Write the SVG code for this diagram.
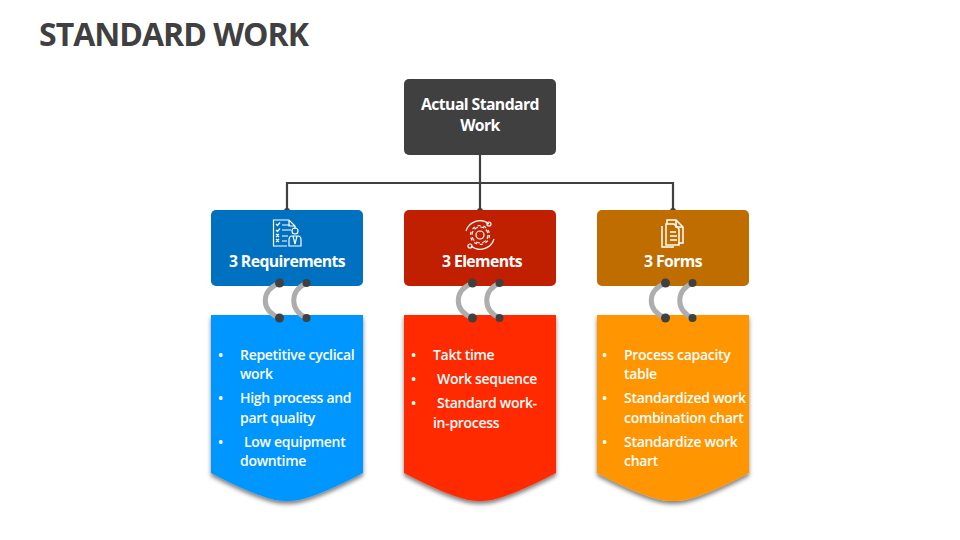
<svg xmlns="http://www.w3.org/2000/svg" width="960" height="540" viewBox="0 0 960 540">
<defs>
<style>
text{font-family:"Open Sans","Noto Sans","Liberation Sans",sans-serif}
.h{fill:#fff;font-size:15.800px;font-weight:700;text-anchor:middle;letter-spacing:-.6px}
.b{fill:#fff;font-size:14px;font-weight:600;letter-spacing:-.3px}
.c{fill:none;stroke:#404040;stroke-width:2.2}
.d{fill:#404040}
.r{fill:none;stroke:#adadad;stroke-width:5}
.i{fill:none;stroke:#fff;stroke-width:1.200}
</style>
<filter id="s" x="-10%" y="-10%" width="120%" height="120%"><feDropShadow dx="0" dy="3" stdDeviation="2" flood-color="#000" flood-opacity=".5"/></filter>
<path id="paper" d="M0 0H152V158Q110 180 88 185Q76 187 64 185Q42 180 0 158Z"/>
<g id="rings">
<path class="r" d="M-7 0C-26 8 -26 27 -7 35"/>
<path class="r" d="M20 0C3 8 3 27 20 35"/>
<circle class="d" cx="-7" cy="0" r="4.500"/><circle class="d" cx="20" cy="0" r="4"/>
<circle class="d" cx="-7" cy="35" r="4.500"/><circle class="d" cx="20" cy="35" r="4"/>
</g>
</defs>
<rect width="960" height="540" fill="#fff"/>
<text x="39" y="45.500" font-size="32" font-weight="700" fill="#404040" letter-spacing="-1">STANDARD WORK</text>
<g id="connectors">
<path class="c" d="M480 155V210M287 211V183H673V211"/>
<circle class="d" cx="287" cy="211" r="3"/><circle class="d" cx="480" cy="211" r="3"/><circle class="d" cx="673" cy="211" r="3"/>
</g>
<g id="top">
<rect x="404" y="79" width="152" height="76" rx="5" fill="#404040"/>
<text class="h" x="480" y="110">Actual Standard</text>
<text class="h" x="480" y="131">Work</text>
</g>
<g id="paper1"><use href="#paper" x="211" y="315" fill="#0096ff" filter="url(#s)"/>
<g class="b"><text x="240" y="360">Repetitive cyclical</text><text x="240" y="379">work</text><text x="240" y="403">High process and</text><text x="240" y="423">part quality</text><text x="244" y="447">Low equipment</text><text x="240" y="466">downtime</text>
<text x="218" y="360">•</text><text x="218" y="403">•</text><text x="218" y="447">•</text></g></g>
<g id="paper2"><use href="#paper" x="404" y="315" fill="#ff2a00" filter="url(#s)"/>
<g class="b"><text x="433" y="360">Takt time</text><text x="437" y="384">Work sequence</text><text x="437" y="408">Standard work-</text><text x="433" y="428">in-process</text>
<text x="411" y="360">•</text><text x="411" y="384">•</text><text x="411" y="408">•</text></g></g>
<g id="paper3"><use href="#paper" x="597" y="315" fill="#ff9500" filter="url(#s)"/>
<g class="b"><text x="624" y="360">Process capacity</text><text x="624" y="379">table</text><text x="624" y="403">Standardized work</text><text x="624" y="423">combination chart</text><text x="624" y="447">Standardize work</text><text x="624" y="466">chart</text>
<text x="602" y="360">•</text><text x="602" y="403">•</text><text x="602" y="447">•</text></g></g>
<g id="req">
<rect x="211" y="210" width="152" height="76" rx="5" fill="#0070c0"/>
<text class="h" x="287" y="267">3 Requirements</text>
<g class="i"><path d="M287 246H273.500V220H289L295 226V229M289 220V226H295"/><path d="M282 225H290M282 230H291M282 236H288M282 241H287M276 224l1.500 1.500 2.500-3M276 230l1.500 1.500 2.500-3M276 234l3 3M279 234l-3 3M276 239l3 3M279 239l-3 3"/><circle cx="295" cy="231" r="3"/><path d="M289 246V240Q289 236 292 236H298Q301 236 301 240V246ZM293 236L295 244L297 236"/></g>
</g>
<g id="ele">
<rect x="404" y="210" width="152" height="76" rx="5" fill="#c01f00"/>
<text class="h" x="482" y="267">3 Elements</text>
<g class="i"><circle cx="480" cy="235" r="4"/><circle cx="480" cy="235" r="8" stroke-dasharray="4 2.280"/><circle cx="480" cy="235" r="9.500" stroke-dasharray="3 3"/><path d="M489 224A14.500 14.500 0 0 0 466 231M471 246A14.500 14.500 0 0 0 494 239"/><circle cx="489" cy="224" r="2"/><circle cx="470" cy="246" r="2"/></g>
</g>
<g id="frm">
<rect x="597" y="210" width="152" height="76" rx="5" fill="#c06d00"/>
<text class="h" x="673" y="267">3 Forms</text>
<g class="i" style="stroke-width:1.500"><path d="M667 224V220H676L683 227V243H678"/><path d="M666 224H674L679 229V245H666Z"/><path d="M662 226V247H674"/><path d="M670 232H676M670 236H677M670 240H677M676 220V227H683"/></g>
</g>
<use href="#rings" x="286.500" y="283"/>
<use href="#rings" x="479.500" y="283"/>
<use href="#rings" x="672.500" y="283"/>
</svg>
